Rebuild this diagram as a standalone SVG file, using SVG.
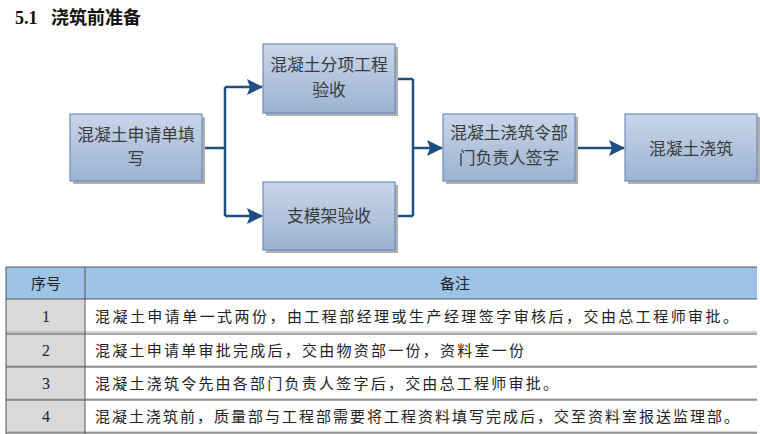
<svg xmlns="http://www.w3.org/2000/svg" width="760" height="434" viewBox="0 0 760 434">
<style>
.box{fill:url(#g);stroke:#6f8db9;stroke-width:1.2}
.sh{fill:#b0b0b0}
.bt{font-family:"Noto Sans CJK SC","Noto Sans",sans-serif;font-size:16.8px;fill:#3a3a3a;text-anchor:middle}
.con{fill:none;stroke:#1f4e82;stroke-width:2.5}
.tt{font-family:"Liberation Serif","Noto Sans CJK SC",serif;font-size:15px;fill:#222}
.num{font-size:16px}
.tc{text-anchor:middle}
.grid{stroke:#555;stroke-width:1}
.grid2{stroke:#aaa;stroke-width:1}
</style>
<defs>
<linearGradient id="g" x1="0" y1="0" x2="0" y2="1">
<stop offset="0" stop-color="#c8d6e8"/>
<stop offset="1" stop-color="#9cb2d2"/>
</linearGradient>
<marker id="arw" markerWidth="16" markerHeight="16" refX="15" refY="8" orient="auto" markerUnits="userSpaceOnUse" viewBox="0 0 16 16">
<path d="M0,0 L16,8 L0,16 L3,8 z" fill="#1f4e82"/>
</marker>
</defs>
<rect width="760" height="434" fill="#fff"/>
<text x="15" y="24" font-family="Liberation Serif,serif" font-weight="bold" font-size="18" fill="#111">5.1</text>
<text x="51" y="24" font-family="Noto Sans CJK SC,sans-serif" font-weight="bold" font-size="18" fill="#111">浇筑前准备</text>

<g id="connectors">
<path class="con" d="M202,148 H225"/>
<path class="con" d="M225,87 V216"/>
<path class="con" d="M225,87 H262" marker-end="url(#arw)"/>
<path class="con" d="M225,216 H262" marker-end="url(#arw)"/>
<path class="con" d="M396,79 H413"/>
<path class="con" d="M396,216 H413"/>
<path class="con" d="M413,79 V216"/>
<path class="con" d="M413,148 H442" marker-end="url(#arw)"/>
<path class="con" d="M575,148 H624" marker-end="url(#arw)"/>
</g>

<g id="n1">
<rect class="sh" x="73" y="117" width="132" height="67"/>
<rect class="box" x="70" y="114" width="132" height="67"/>
<text class="bt" x="136" y="141">混凝土申请单填</text>
<text class="bt" x="136" y="165">写</text>
</g>
<g id="n2">
<rect class="sh" x="266" y="47" width="132" height="69"/>
<rect class="box" x="263" y="44" width="132" height="69"/>
<text class="bt" x="329" y="71">混凝土分项工程</text>
<text class="bt" x="329" y="96">验收</text>
</g>
<g id="n3">
<rect class="sh" x="266" y="185" width="132" height="68"/>
<rect class="box" x="263" y="182" width="132" height="68"/>
<text class="bt" x="329" y="222">支模架验收</text>
</g>
<g id="n4">
<rect class="sh" x="446" y="117" width="132" height="67"/>
<rect class="box" x="443" y="114" width="132" height="67"/>
<text class="bt" x="509" y="139">混凝土浇筑令部</text>
<text class="bt" x="509" y="164">门负责人签字</text>
</g>
<g id="n5">
<rect class="sh" x="628" y="117" width="132" height="67"/>
<rect class="box" x="625" y="114" width="132" height="67"/>
<text class="bt" x="691" y="155">混凝土浇筑</text>
</g>

<g id="table">
<rect x="6" y="267" width="751" height="32" fill="#9dc3e6"/>
<rect x="6" y="299" width="79" height="134" fill="#d9d9d9"/>
<line class="grid" x1="6" y1="267" x2="757" y2="267"/>
<line class="grid" x1="6" y1="299" x2="757" y2="299"/>
<line class="grid2" x1="6" y1="332" x2="757" y2="332"/>
<line class="grid" x1="6" y1="334" x2="757" y2="334"/>
<line class="grid2" x1="6" y1="366" x2="757" y2="366"/>
<line class="grid" x1="6" y1="367" x2="757" y2="367"/>
<line class="grid2" x1="6" y1="399" x2="757" y2="399"/>
<line class="grid" x1="6" y1="400" x2="757" y2="400"/>
<line class="grid2" x1="6" y1="432" x2="757" y2="432"/>
<line class="grid" x1="6" y1="433" x2="757" y2="433"/>
<line class="grid" x1="6" y1="267" x2="6" y2="434"/>
<line class="grid" x1="85" y1="267" x2="85" y2="434"/>
<text class="tt tc" x="46" y="289">序号</text>
<text class="tt tc" x="455" y="289">备注</text>
<text class="tt tc num" x="46" y="322">1</text>
<text class="tt tc num" x="46" y="356">2</text>
<text class="tt tc num" x="46" y="389">3</text>
<text class="tt tc num" x="46" y="422">4</text>
<text class="tt" x="95" y="322" textLength="643" lengthAdjust="spacing">混凝土申请单一式两份，由工程部经理或生产经理签字审核后，交由总工程师审批。</text>
<text class="tt" x="95" y="356" textLength="429" lengthAdjust="spacing">混凝土申请单审批完成后，交由物资部一份，资料室一份</text>
<text class="tt" x="95" y="389" textLength="463" lengthAdjust="spacing">混凝土浇筑令先由各部门负责人签字后，交由总工程师审批。</text>
<text class="tt" x="95" y="422" textLength="644" lengthAdjust="spacing">混凝土浇筑前，质量部与工程部需要将工程资料填写完成后，交至资料室报送监理部。</text>
</g>
</svg>
